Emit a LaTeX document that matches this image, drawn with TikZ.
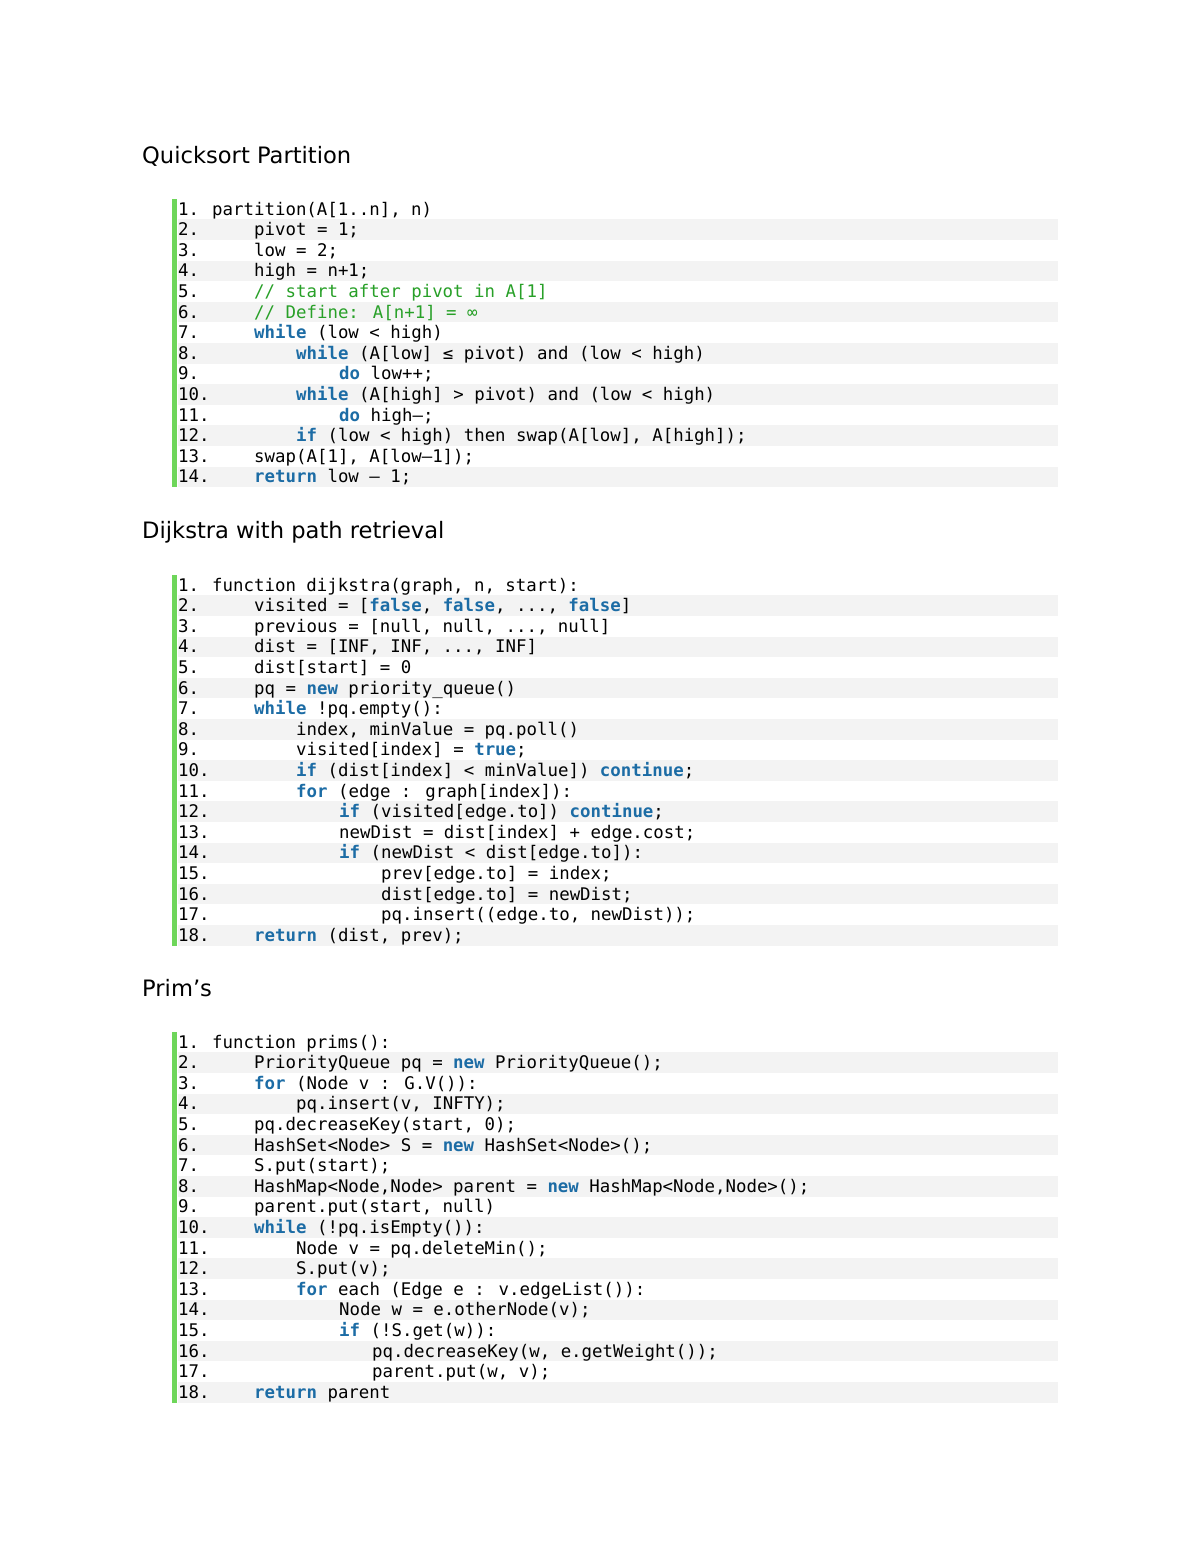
\documentclass[tikz,border=0pt]{standalone}
\usepackage{fontspec}
\setmainfont{DejaVu Sans}
\newfontfamily\codefont{DejaVu Sans Mono}
\definecolor{kwblue}{RGB}{28,108,165}
\definecolor{cmgreen}{RGB}{40,160,40}
\definecolor{bargreen}{RGB}{110,214,90}
\definecolor{stripe}{RGB}{243,243,243}
\newcommand\kw[1]{\textcolor{kwblue}{\bfseries #1}}
\newcommand\cm[1]{\textcolor{cmgreen}{#1}}
\newcommand\cl[4]{%
  \node[lnum] (n#1-#2) at (178,{#1+20.6*(#2-1)+6}) {#2.};
  \node[lcode] (c#1-#2) at (#3,{#1+20.6*(#2-1)+6}) {#4};}
\newcommand\block[2]{% base y, number of lines
  \foreach \i in {2,4,...,#2} {\fill[stripe] (178,{#1+20.6*(\i-1)-10.3}) rectangle (1058,{#1+20.6*(\i-1)+10.3});}
  \fill[bargreen] (172,{#1-10.3}) rectangle (177,{#1+20.6*(#2-1)+10.3});}
\begin{document}
\begin{tikzpicture}[x=1pt,y=-1pt,
  lnum/.style={anchor=base west,inner sep=0,font=\codefont\fontsize{17.4}{20}\selectfont},
  lcode/.style={anchor=base west,inner sep=0,font=\codefont\fontsize{17.4}{20}\selectfont},
  ttl/.style={anchor=base west,inner sep=0,font=\fontsize{22.6}{26}\selectfont}]
\useasboundingbox[fill=white] (0,0) rectangle (1200,1553);
\node[ttl] (t1) at (142,163) {Quicksort Partition};
\node[ttl] (t2) at (142,538) {Dijkstra with path retrieval};
\node[ttl] (t3) at (142,996) {Prim’s};
% Quicksort
\block{209}{14}
\cl{209}{1}{212}{partition(A[1..n], n)}
\cl{209}{2}{254}{pivot = 1;}
\cl{209}{3}{254}{low = 2;}
\cl{209}{4}{254}{high = n+1;}
\cl{209}{5}{254}{\cm{// start after pivot in A[1]}}
\cl{209}{6}{254}{\cm{// Define: A[n+1] = ∞}}
\cl{209}{7}{254}{\kw{while} (low < high)}
\cl{209}{8}{296}{\kw{while} (A[low] ≤ pivot) and (low < high)}
\cl{209}{9}{339}{\kw{do} low++;}
\cl{209}{10}{296}{\kw{while} (A[high] > pivot) and (low < high)}
\cl{209}{11}{339}{\kw{do} high—;}
\cl{209}{12}{296}{\kw{if} (low < high) then swap(A[low], A[high]);}
\cl{209}{13}{254}{swap(A[1], A[low–1]);}
\cl{209}{14}{254}{\kw{return} low – 1;}
% Dijkstra
\block{585}{18}
\cl{585}{1}{212}{function dijkstra(graph, n, start):}
\cl{585}{2}{254}{visited = [\kw{false}, \kw{false}, ..., \kw{false}]}
\cl{585}{3}{254}{previous = [null, null, ..., null]}
\cl{585}{4}{254}{dist = [INF, INF, ..., INF]}
\cl{585}{5}{254}{dist[start] = 0}
\cl{585}{6}{254}{pq = \kw{new} priority\_queue()}
\cl{585}{7}{254}{\kw{while} !pq.empty():}
\cl{585}{8}{296}{index, minValue = pq.poll()}
\cl{585}{9}{296}{visited[index] = \kw{true};}
\cl{585}{10}{296}{\kw{if} (dist[index] < minValue]) \kw{continue};}
\cl{585}{11}{296}{\kw{for} (edge : graph[index]):}
\cl{585}{12}{339}{\kw{if} (visited[edge.to]) \kw{continue};}
\cl{585}{13}{339}{newDist = dist[index] + edge.cost;}
\cl{585}{14}{339}{\kw{if} (newDist < dist[edge.to]):}
\cl{585}{15}{381}{prev[edge.to] = index;}
\cl{585}{16}{381}{dist[edge.to] = newDist;}
\cl{585}{17}{381}{pq.insert((edge.to, newDist));}
\cl{585}{18}{254}{\kw{return} (dist, prev);}
% Prim
\block{1042}{18}
\cl{1042}{1}{212}{function prims():}
\cl{1042}{2}{254}{PriorityQueue pq = \kw{new} PriorityQueue();}
\cl{1042}{3}{254}{\kw{for} (Node v : G.V()):}
\cl{1042}{4}{296}{pq.insert(v, INFTY);}
\cl{1042}{5}{254}{pq.decreaseKey(start, 0);}
\cl{1042}{6}{254}{HashSet<Node> S = \kw{new} HashSet<Node>();}
\cl{1042}{7}{254}{S.put(start);}
\cl{1042}{8}{254}{HashMap<Node,Node> parent = \kw{new} HashMap<Node,Node>();}
\cl{1042}{9}{254}{parent.put(start, null)}
\cl{1042}{10}{254}{\kw{while} (!pq.isEmpty()):}
\cl{1042}{11}{296}{Node v = pq.deleteMin();}
\cl{1042}{12}{296}{S.put(v);}
\cl{1042}{13}{296}{\kw{for} each (Edge e : v.edgeList()):}
\cl{1042}{14}{339}{Node w = e.otherNode(v);}
\cl{1042}{15}{339}{\kw{if} (!S.get(w)):}
\cl{1042}{16}{372}{pq.decreaseKey(w, e.getWeight());}
\cl{1042}{17}{372}{parent.put(w, v);}
\cl{1042}{18}{254}{\kw{return} parent}
\end{tikzpicture}
\end{document}
